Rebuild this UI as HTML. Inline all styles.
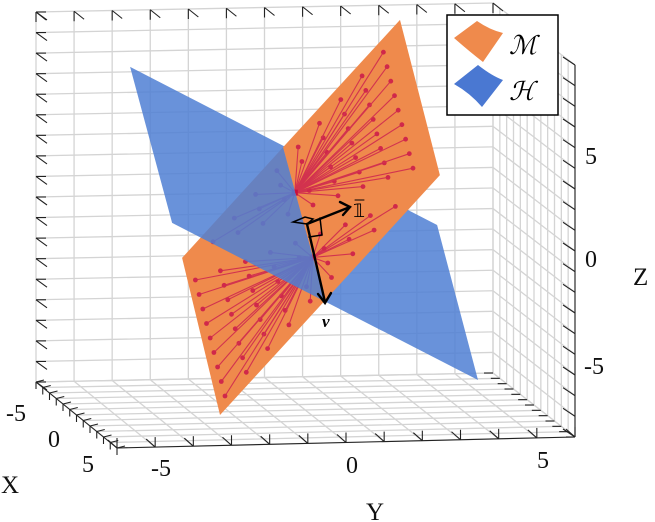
<!DOCTYPE html>
<html><head><meta charset="utf-8"><style>
html,body{margin:0;padding:0;background:#fff;}
svg{display:block;font-family:"Liberation Serif","DejaVu Serif",serif;}
</style></head><body>
<svg id="chart" width="655" height="522" viewBox="0 0 655 522" xmlns="http://www.w3.org/2000/svg">
<defs>
<clipPath id="leftHalf"><polygon points="0,0 243,0 385,522 0,522"/></clipPath>
<clipPath id="rightHalf"><polygon points="243,0 655,0 655,522 385,522"/></clipPath>
</defs>
<g id="grid"></g>
<g id="ticks"></g>
<g id="scene"></g>
<g font-size="24" fill="#111">
<text x="585" y="164">5</text>
<text x="585" y="267">0</text>
<text x="584" y="374">-5</text>
<text x="633" y="285" font-size="25">Z</text>
<text x="6" y="421">-5</text>
<text x="48" y="447">0</text>
<text x="82" y="472">5</text>
<text x="1" y="493" font-size="25">X</text>
<text x="151" y="476">-5</text>
<text x="346" y="473">0</text>
<text x="537" y="468">5</text>
<text x="366" y="520" font-size="25">Y</text>
</g>
<g>
<rect x="447" y="15" width="111" height="100" fill="#fff" stroke="#000" stroke-width="1.5"/>
<path d="M454,38 L477,21 Q490,30 503,33 L483,62 Q470,52 454,38 Z" fill="#ef8a4c"/>
<text x="509" y="54" font-size="26" font-style="italic">ℳ</text>
<path d="M454,84 L478,65 Q492,76 503,80 L482,107 Q470,93 454,84 Z" fill="#4a78d2"/>
<text x="509" y="100" font-size="26" font-style="italic">ℋ</text>
</g>
</svg>
<script>
// lattice coordinates of ray endpoints (plane coords a,b)
const upperA = [-4,-3,-2,-1,0,1,2,3,4, -3,-2,-1,0,1,2,3,4, -2,-1,0,1,2,3,4, -1,0,1,2,3,4, 0,1,2,3,4, 1,2,3,4, 2,3,4, 3,4, 4];
const upperB = [0,0,0,0,0,0,0,0,0, 1,1,1,1,1,1,1,1, 2,2,2,2,2,2,2, 3,3,3,3,3,3, 4,4,4,4,4, 5,5,5,5, 6,6,6, 7,7, 8];
const lowerA = [-5,-4,-3,-2,-1,0,1,2,3, -5,-4,-3,-2,-1,0,1,2, -5,-4,-3,-2,-1,0,1, -5,-4,-3,-2,-1,0, -5,-4,-3,-2,-1, -5,-4,-3,-2, -5,-4,-3, -5,-4, -5];
const lowerB = [-2,-2,-2,-2,-2,-2,-2,-2,-2, -3,-3,-3,-3,-3,-3,-3,-3, -4,-4,-4,-4,-4,-4,-4, -5,-5,-5,-5,-5,-5, -6,-6,-6,-6,-6, -7,-7,-7,-7, -8,-8,-8, -9,-9, -10];
const upperCenter = [-0.55, 1.2];
const lowerCenter = [-0.5, -3.3];
const planeM = [[-5.28,-0.30],[-0.46,4.43],[4.91,9.65],[4.92,-1.06],[-5.36,-11.08]];
const planeH = [[-5.40,12.95],[4.35,-4.14],[4.40,-14.86],[-5.32,2.14]];

const NS = "http://www.w3.org/2000/svg";
const O = [313,205], U = [25,-9.2], W = [-3.7,-14.5];
function px(a,b){ return O[0] + a*U[0] + b*W[0]; }
function py(a,b){ return O[1] + a*U[1] + b*W[1]; }
function mk(tag, attrs, parent){
  const e = document.createElementNS(NS, tag);
  for (const k in attrs) e.setAttribute(k, attrs[k]);
  parent.appendChild(e); return e;
}
function lerp(p,q,t){ return [p[0]+(q[0]-p[0])*t, p[1]+(q[1]-p[1])*t]; }

const grid = document.getElementById('grid');
function wall(TL,TR,BL,BR,nu,nv,name){
  for (let i=0;i<=nu;i++){
    const t=i/nu, a=lerp(TL,TR,t), b=lerp(BL,BR,t);
    const l = mk('line',{x1:a[0],y1:a[1],x2:b[0],y2:b[1],stroke:'#d4d4d4','stroke-width':1.3},grid);
    
    
  }
  for (let j=0;j<=nv;j++){
    const t=j/nv, a=lerp(TL,BL,t), b=lerp(TR,BR,t);
    const l = mk('line',{x1:a[0],y1:a[1],x2:b[0],y2:b[1],stroke:'#d4d4d4','stroke-width':1.3},grid);
    
    
  }
}
const bTL=[36,12], bTR=[493,3], bBL=[36,382], bBR=[493,373];
const fTR=[575,65], fBR=[575,437], fBL=[117,448];
wall(bTL,bTR,bBL,bBR,12,18,'back-wall');
wall(bTR,fTR,bBR,fBR,12,18,'side-wall');
wall(bBL,bBR,fBL,fBR,12,12,'floor');

const tk = document.getElementById('ticks');
function tick(x1,y1,x2,y2,name){
  const l = mk('line',{x1:x1,y1:y1,x2:x2,y2:y2,stroke:'#222','stroke-width':1.1},tk);
  
  
}
for (let j=0;j<=18;j++){ const p=lerp(bTL,bBL,j/18); tick(p[0],p[1],p[0]+11,p[1]+8,'z-tick-left'); tick(p[0],p[1],p[0]+10,p[1],'z-tick-left'); }
for (let i=0;i<=12;i++){ const p=lerp(bTL,bTR,i/12); tick(p[0],p[1],p[0]+10,p[1]+8,'y-tick-top'); tick(p[0],p[1],p[0],p[1]+10,'y-tick-top'); }
for (let j=0;j<=18;j++){ const p=lerp(fTR,fBR,j/18); tick(p[0],p[1],p[0]-12,p[1]-8,'z-tick-right'); }
for (let i=0;i<=12;i++){ const p=lerp(fBL,fBR,i/12); tick(p[0],p[1],p[0]-9,p[1]-8,'y-tick-front'); tick(p[0],p[1],p[0],p[1]-10,'y-tick-front'); }
for (let i=0;i<=12;i++){ const p=lerp(bBL,fBL,i/12); tick(p[0],p[1],p[0]+8,p[1]-2,'x-tick'); tick(p[0],p[1],p[0],p[1]+7,'x-tick'); }
for (let i=0;i<=12;i++){ const p=lerp(bBR,fBR,i/12); tick(p[0],p[1],p[0]-9,p[1],'x-tick-right'); }
tick(bBL[0],bBL[1],fBL[0],fBL[1],'x-axis-line');
tick(fBL[0],fBL[1],fBR[0],fBR[1],'y-axis-line');
tick(fTR[0],fTR[1],fBR[0],fBR[1],'z-axis-line');

const sc = document.getElementById('scene');
function poly(pts){ return pts.map(p=>px(p[0],p[1]).toFixed(1)+','+py(p[0],p[1]).toFixed(1)).join(' '); }
function drawRays(parent, clip){
  const g = mk('g',{'clip-path':'url(#'+clip+')'},parent);
  
  
  const sets = [[upperA,upperB,upperCenter],[lowerA,lowerB,lowerCenter]];
  sets.forEach(([A,B,C],k)=>{
    const cx=px(C[0],C[1]), cy=py(C[0],C[1]);
    for (let i=0;i<A.length;i++){
      const x=px(A[i],B[i]), y=py(A[i],B[i]);
      const l = mk('line',{x1:cx,y1:cy,x2:x,y2:y,stroke:'#d2334f','stroke-width':1.1},g);
      
      
      const d = mk('circle',{cx:x,cy:y,r:2.4,fill:'#d0284a'},g);
      
      
    }
    const s = mk('rect',{x:cx-3,y:cy-3,width:6,height:6,fill:'#c8103e'},g);
    
    
  });
}
let e = mk('polygon',{points:poly(planeM),fill:'#ef8a4c','clip-path':'url(#leftHalf)'},sc);


drawRays(sc,'leftHalf');
e = mk('polygon',{points:poly(planeH),fill:'#4f7fd4','fill-opacity':0.85},sc);


e = mk('polygon',{points:poly(planeM),fill:'#ef8a4c','clip-path':'url(#rightHalf)'},sc);


drawRays(sc,'rightHalf');

const vg = mk('g',{stroke:'#000','stroke-width':2.4,fill:'none','stroke-linecap':'round'},sc);


const base=[307,224];
e = mk('line',{x1:base[0],y1:base[1],x2:350,y2:207},vg);


e = mk('polyline',{points:'340,202 350,207 343,215'},vg);


e = mk('line',{x1:base[0],y1:base[1],x2:325,y2:302},vg);


e = mk('polyline',{points:'318,294 325,303 331,293'},vg);


e = mk('polyline',{points:'309,237 322,235 320,218','stroke-width':1.5},vg);


e = mk('polyline',{points:'307,224 313,219 305,217 293,222 307,224','stroke-width':1.5},vg);


e = mk('text',{x:353,y:217,'font-size':19,fill:'#000',stroke:'none','font-family':'DejaVu Sans, Liberation Serif, serif'},vg);
e.textContent = '𝟙';


e = mk('line',{x1:355,y1:200,x2:364,y2:200,'stroke-width':1},vg);


e = mk('text',{x:322,y:327,'font-size':17,'font-style':'italic','font-weight':'bold',fill:'#000',stroke:'none','font-family':'Liberation Serif, serif'},vg);
e.textContent = 'v';


</script>
</body></html>
